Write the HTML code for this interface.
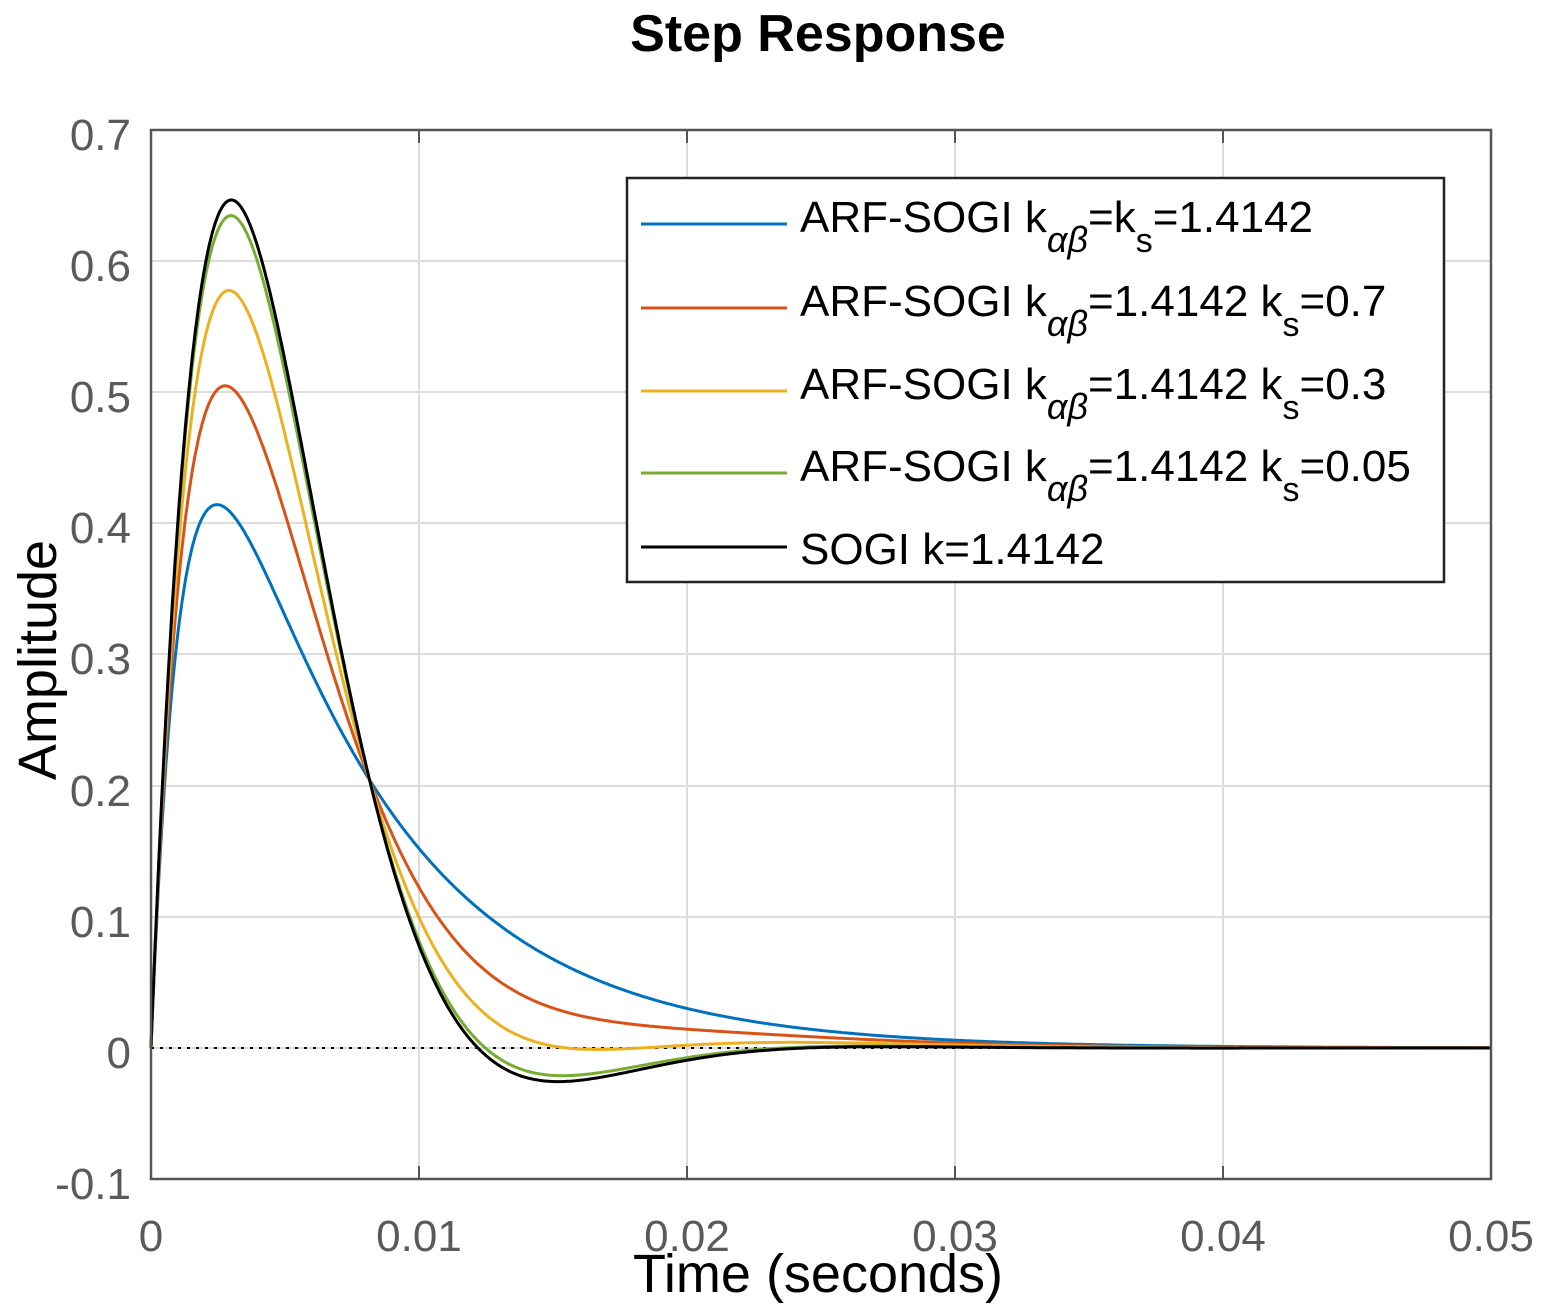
<!DOCTYPE html>
<html><head><meta charset="utf-8"><style>
html,body{margin:0;padding:0;background:#fff}
svg{display:block}
text{font-family:"Liberation Sans","DejaVu Sans",sans-serif}
</style></head><body>
<svg id="s" width="1553" height="1310" viewBox="0 0 1553 1310" xmlns="http://www.w3.org/2000/svg">
<rect x="0" y="0" width="1553" height="1310" fill="#fff"/>
<g stroke="#dcdcdc" stroke-width="2">
<line x1="419" y1="130" x2="419" y2="1179"/><line x1="687" y1="130" x2="687" y2="1179"/>
<line x1="955" y1="130" x2="955" y2="1179"/><line x1="1223" y1="130" x2="1223" y2="1179"/>
<line x1="151" y1="261" x2="1491" y2="261"/><line x1="151" y1="392" x2="1491" y2="392"/>
<line x1="151" y1="523" x2="1491" y2="523"/><line x1="151" y1="654" x2="1491" y2="654"/>
<line x1="151" y1="786" x2="1491" y2="786"/><line x1="151" y1="917" x2="1491" y2="917"/>
<line x1="151" y1="1048" x2="1491" y2="1048"/>
</g>
<line x1="151" y1="1048" x2="1491" y2="1048" stroke="#000" stroke-width="2" stroke-dasharray="3,6"/>
<g id="curves" fill="none" stroke-width="3"></g>
<rect x="151" y="130" width="1340" height="1049" fill="none" stroke="#555" stroke-width="2.5"/>
<g stroke="#555" stroke-width="2">
<line x1="419" y1="1179" x2="419" y2="1166"/><line x1="687" y1="1179" x2="687" y2="1166"/><line x1="955" y1="1179" x2="955" y2="1166"/><line x1="1223" y1="1179" x2="1223" y2="1166"/>
<line x1="419" y1="130" x2="419" y2="143"/><line x1="687" y1="130" x2="687" y2="143"/><line x1="955" y1="130" x2="955" y2="143"/><line x1="1223" y1="130" x2="1223" y2="143"/>
</g>
<g fill="#5a5a5a" font-size="44" text-anchor="end">
<text x="131" y="150">0.7</text><text x="131" y="281">0.6</text><text x="131" y="412">0.5</text><text x="131" y="543">0.4</text>
<text x="131" y="674">0.3</text><text x="131" y="806">0.2</text><text x="131" y="937">0.1</text><text x="131" y="1068">0</text><text x="131" y="1199">-0.1</text>
</g>
<g fill="#5a5a5a" font-size="44" text-anchor="middle">
<text x="151" y="1251">0</text><text x="419" y="1251">0.01</text><text x="687" y="1251">0.02</text><text x="955" y="1251">0.03</text><text x="1223" y="1251">0.04</text><text x="1491" y="1251">0.05</text>
</g>
<text x="818" y="1292" font-size="54" text-anchor="middle">Time (seconds)</text>
<text transform="translate(56,660) rotate(-90)" font-size="54" text-anchor="middle">Amplitude</text>
<text x="818" y="51" font-size="52" font-weight="bold" text-anchor="middle">Step Response</text>
<rect x="627" y="178" width="817" height="404" fill="#fff" stroke="#222" stroke-width="2.5"/>
<g stroke-width="3">
<line x1="641" y1="224" x2="787" y2="224" stroke="#0072BD"/>
<line x1="641" y1="308" x2="787" y2="308" stroke="#D95319"/>
<line x1="641" y1="391" x2="787" y2="391" stroke="#EDB120"/>
<line x1="641" y1="473" x2="787" y2="473" stroke="#77AC30"/>
<line x1="641" y1="547" x2="787" y2="547" stroke="#000"/>
</g>
<g font-size="44" fill="#000">
<text x="800" y="232">ARF-SOGI k<tspan dy="20" font-size="36" font-style="italic">αβ</tspan><tspan dy="-20">=k</tspan><tspan dy="20" font-size="34">s</tspan><tspan dy="-20">=1.4142</tspan></text>
<text x="800" y="316">ARF-SOGI k<tspan dy="20" font-size="36" font-style="italic">αβ</tspan><tspan dy="-20">=1.4142 k</tspan><tspan dy="20" font-size="34">s</tspan><tspan dy="-20">=0.7</tspan></text>
<text x="800" y="399">ARF-SOGI k<tspan dy="20" font-size="36" font-style="italic">αβ</tspan><tspan dy="-20">=1.4142 k</tspan><tspan dy="20" font-size="34">s</tspan><tspan dy="-20">=0.3</tspan></text>
<text x="800" y="481">ARF-SOGI k<tspan dy="20" font-size="36" font-style="italic">αβ</tspan><tspan dy="-20">=1.4142 k</tspan><tspan dy="20" font-size="34">s</tspan><tspan dy="-20">=0.05</tspan></text>
<text x="800" y="564">SOGI k=1.4142</text>
</g>
</svg>
<script>
(function(){
function blue(t){return 0.77*(Math.exp(-162*t)-Math.exp(-820*t));}
function sogi(t){return 2.05*Math.exp(-264.6*t)*Math.sin(257.5*t);}
var series=[[1,"#0072BD"],[0.6,"#D95319"],[0.29,"#EDB120"],[0.05,"#77AC30"],[0,"#000"]];
var g=document.getElementById("curves");
series.forEach(function(s){
 var w=s[0],d="";
 for(var i=0;i<=1000;i++){
  var t=0.05*i/1000;
  var y=w*blue(t)+(1-w)*sogi(t);
  var px=151+t*26800, py=1048-y*1311;
  d+=(i?"L":"M")+px.toFixed(1)+","+py.toFixed(1);
 }
 var p=document.createElementNS("http://www.w3.org/2000/svg","path");
 p.setAttribute("d",d);p.setAttribute("stroke",s[1]);
 g.appendChild(p);
});
})();
</script>
</body></html>
